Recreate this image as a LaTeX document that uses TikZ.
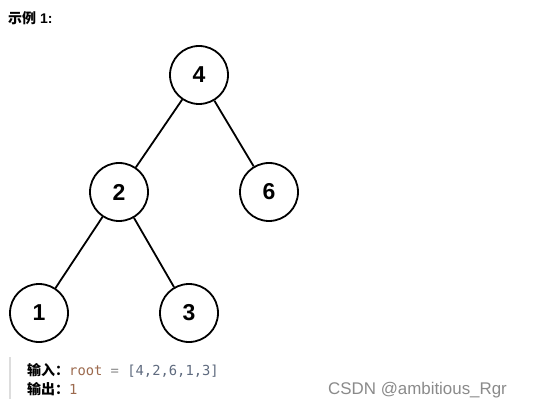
\documentclass[tikz,border=0pt]{standalone}
\usepackage{fontspec}
\setmainfont{Liberation Sans}
\setmonofont{DejaVu Sans Mono}
\newfontfamily\cjk{Noto Sans CJK SC}
\usepackage{xcolor}
\usetikzlibrary{positioning}
\definecolor{keyBrown}{HTML}{9C6A4E}
\definecolor{numGray}{HTML}{5E6A7E}
\definecolor{barGray}{HTML}{DDDDDD}
\definecolor{markGray}{HTML}{8A8A8A}

\begin{document}
\begin{tikzpicture}[
  x=1pt, y=-1pt,
  vtx/.style={draw, circle, line width=1.8pt, minimum size=58pt, inner sep=0pt,
    font=\fontsize{23}{26}\selectfont\bfseries},
  edge/.style={line width=1.8pt},
  lbl/.style={anchor=west, inner sep=0pt, font=\fontsize{14}{16}\selectfont}
]
\useasboundingbox (0,0) rectangle (534,411);
% title
\node[anchor=west, inner sep=0pt, font=\fontsize{14}{16}\selectfont\bfseries] (ttl) at (8,18)
  {{\cjk 示例} 1:};

% Tree
\node[vtx] (n4) at (199,75) {4};
\node[vtx] (n2) at (119,192) {2};
\node[vtx] (n6) at (269,192) {6};
\node[vtx] (n1) at (39,313) {1};
\node[vtx] (n3) at (189,313) {3};
\draw[edge] (n4) -- (n2);
\draw[edge] (n4) -- (n6);
\draw[edge] (n2) -- (n1);
\draw[edge] (n2) -- (n3);

% example input / output
\coordinate (barTop) at (10,357);
\coordinate (barBot) at (10,399);
\draw[barGray, line width=2pt] (barTop) -- (barBot);
\node[lbl] (inp) at (27,370) {{\cjk\bfseries 输入：}\ttfamily\fontsize{13.8}{15}\selectfont
  \textcolor{keyBrown}{root} \textcolor{markGray}{=} \textcolor{numGray}{[4,2,6,1,3]}};
\node[lbl] (outp) at (27,389) {{\cjk\bfseries 输出：}\ttfamily\fontsize{13.8}{15}\selectfont
  \textcolor{keyBrown}{1}};

% watermark
\node[anchor=west, inner sep=0pt, text=markGray, font=\fontsize{16.9}{19}\selectfont] (wm) at (328,390)
  {CSDN @ambitious\_Rgr};
\end{tikzpicture}
\end{document}
